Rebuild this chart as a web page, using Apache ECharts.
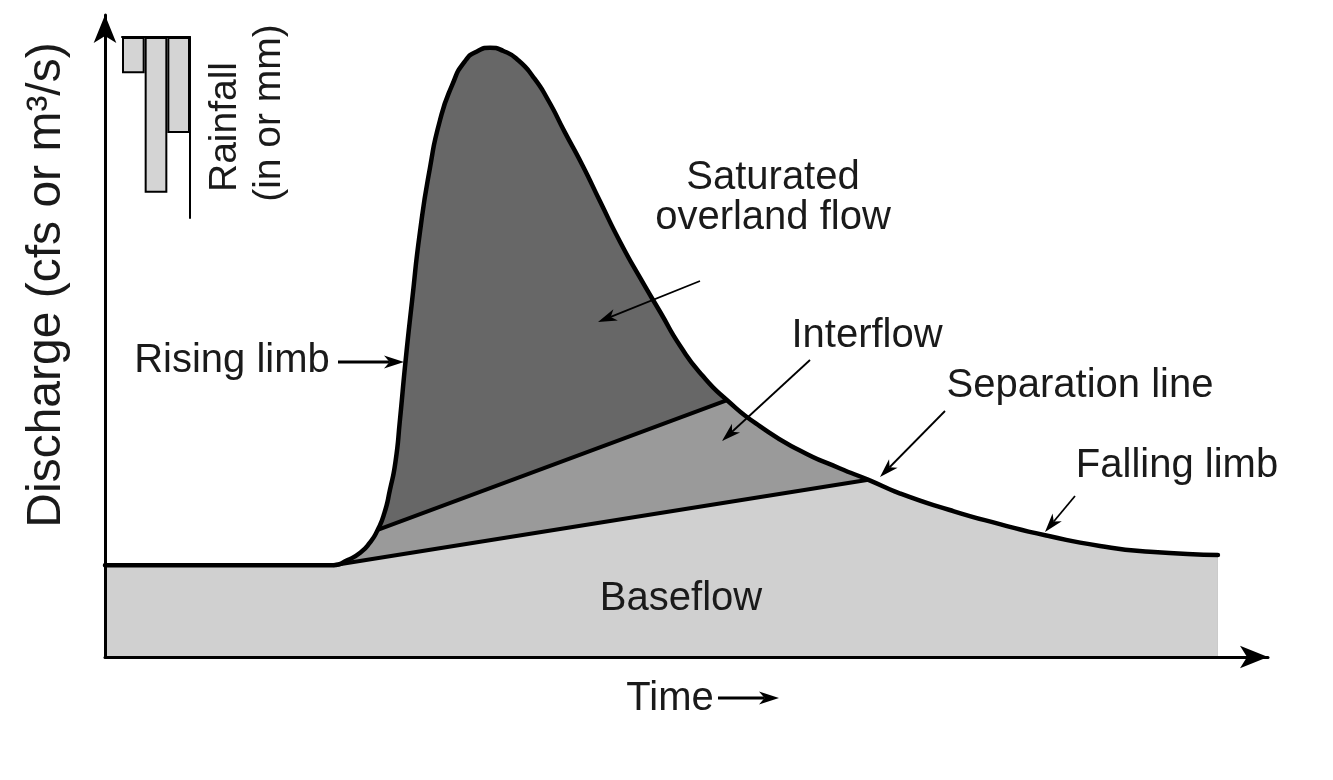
<!DOCTYPE html>
<html>
<head>
<meta charset="utf-8">
<script src="https://cdn.jsdelivr.net/npm/echarts@6/dist/echarts.min.js"></script>
<style>
  html, body { margin: 0; padding: 0; background: #ffffff; }
  #chart { width: 1333px; height: 780px; }
</style>
</head>
<body>
<div id="chart"></div>
<script>
// ---- Data (time and discharge in arbitrary units) ----
const curveTime = [0, 20.5, 21.8, 22.9, 23.8, 24.5, 25.1, 25.6, 26.1, 26.5, 27.0, 27.6, 28.3, 29.2, 30.1, 31.2, 32.3, 33.5, 34.6,
                   35.8, 37.1, 38.5, 39.8, 41.3, 42.9, 44.5, 46.3, 48.1, 49.9, 51.7, 53.7, 55.9, 58.8, 62.4, 66.0,
                   68.6, 71.4, 75.9, 80.4, 84.9, 89.4, 93.9, 100];
const curveFlow = [14.3, 14.3, 15.1, 16.2, 17.8, 19.8, 22.4, 26.0, 30.4, 36.9, 46.0, 55.6, 66.2, 76.2, 83.6, 89.1, 92.7, 94.4, 94.9,
                   94.4, 93.0, 90.3, 86.8, 81.8, 76.6, 70.9, 64.6, 59.0, 53.7, 48.4, 43.8, 40.0, 36.0, 32.2, 29.4,
                   27.6, 25.5, 22.9, 20.7, 18.8, 17.3, 16.4, 15.9];
const upperSepTime = [24.5, 55.9];
const upperSepFlow = [19.8, 40.0];
const lowerSepTime = [20.5, 68.6];
const lowerSepFlow = [14.3, 27.6];
const rainBlocks = ['t1', 't2', 't3'];
const rainDepth = [2.0, 8.6, 5.3];

const labels = {
  yTitle: 'Discharge (cfs or m³/s)',
  xTitle: 'Time',
  rain1: 'Rainfall',
  rain2: '(in or mm)',
  rising: 'Rising limb',
  sat1: 'Saturated',
  sat2: 'overland flow',
  inter: 'Interflow',
  sep: 'Separation line',
  falling: 'Falling limb',
  base: 'Baseflow'
};

// ---- Derived point lists ----
const curve = curveTime.map((t, i) => [t, curveFlow[i]]);
const upperSep = upperSepTime.map((t, i) => [t, upperSepFlow[i]]);
const lowerSep = lowerSepTime.map((t, i) => [t, lowerSepFlow[i]]);
const interTop = curve.filter(p => p[0] >= lowerSepTime[0] && p[0] <= upperSepTime[0])
  .concat(curve.filter(p => p[0] >= upperSepTime[1]));
const baseTop = [curve[0]].concat(lowerSep).concat(curve.filter(p => p[0] > lowerSepTime[1]));

const FONT = 'Liberation Sans, Arial, Helvetica, sans-serif';
const TXT = '#1a1a1a';

function txt(str, x, y, rot, size) {
  return { type: 'text', x: x, y: y, rotation: rot || 0, z: 100,
    style: { text: str, fontSize: size || 40, fontFamily: FONT, fill: TXT, align: 'center', verticalAlign: 'middle' } };
}
function arrow(x1, y1, x2, y2, lw, hl, hw) {
  const dx = x2 - x1, dy = y2 - y1, L = Math.hypot(dx, dy);
  const ux = dx / L, uy = dy / L, px = -uy, py = ux;
  const bx = x2 - ux * hl, by = y2 - uy * hl;
  const nx = x2 - ux * hl * 0.72, ny = y2 - uy * hl * 0.72;
  return [
    { type: 'line', z: 100, shape: { x1: x1, y1: y1, x2: nx, y2: ny }, style: { stroke: '#000', lineWidth: lw } },
    { type: 'polygon', z: 100, shape: { points: [[x2, y2], [bx + px * hw / 2, by + py * hw / 2], [nx, ny], [bx - px * hw / 2, by - py * hw / 2]] },
      style: { fill: '#000' } }
  ];
}

const chart = echarts.init(document.getElementById('chart'), null, { renderer: 'canvas' });

const hidden = { axisTick: { show: false }, axisLabel: { show: false }, splitLine: { show: false } };

const option = {
  animation: false,
  backgroundColor: '#ffffff',
  grid: [
    { left: 105, right: 65, top: 15, bottom: 123 },
    { left: 122, top: 37, width: 68, height: 181 }
  ],
  xAxis: [
    Object.assign({ gridIndex: 0, type: 'value', min: 0, max: 104.5, z: 8,
      axisLine: { show: true, onZero: false, symbol: ['none', 'arrow'], symbolSize: [17, 28],
        lineStyle: { color: '#000', width: 3 } } }, hidden),
    Object.assign({ gridIndex: 1, type: 'category', data: rainBlocks, position: 'top', z: 10,
      axisLine: { show: true, onZero: false, lineStyle: { color: '#000', width: 2 } } }, hidden)
  ],
  yAxis: [
    Object.assign({ gridIndex: 0, type: 'value', min: 0, max: 100, z: 8,
      axisLine: { show: true, onZero: false, symbol: ['none', 'arrow'], symbolSize: [17, 28],
        lineStyle: { color: '#000', width: 3 } } }, hidden),
    Object.assign({ gridIndex: 1, type: 'value', min: 0, max: 10, inverse: true, position: 'right', z: 10,
      axisLine: { show: true, onZero: false, lineStyle: { color: '#000', width: 2 } } }, hidden)
  ],
  series: [
    { name: 'overland', type: 'line', data: curve, smooth: 0.6, showSymbol: false, z: 1,
      lineStyle: { width: 0 }, areaStyle: { color: '#676767', opacity: 1 } },
    { name: 'interflow', type: 'line', data: interTop, smooth: false, showSymbol: false, z: 2,
      lineStyle: { width: 0 }, areaStyle: { color: '#9a9a9a', opacity: 1 } },
    { name: 'baseflow', type: 'line', data: baseTop, smooth: false, showSymbol: false, z: 3,
      lineStyle: { width: 0 }, areaStyle: { color: '#d0d0d0', opacity: 1 } },
    { name: 'mask', type: 'line', data: curve, smooth: 0.6, showSymbol: false, z: 4,
      lineStyle: { width: 0 }, areaStyle: { color: '#ffffff', opacity: 1, origin: 'end' } },
    { name: 'upperSep', type: 'line', data: upperSep, showSymbol: false, z: 5,
      lineStyle: { color: '#000', width: 4 } },
    { name: 'lowerSep', type: 'line', data: lowerSep, showSymbol: false, z: 5,
      lineStyle: { color: '#000', width: 4 } },
    { name: 'hydrograph', type: 'line', data: curve, smooth: 0.6, showSymbol: false, z: 6,
      lineStyle: { color: '#000', width: 4.5, cap: 'round', join: 'round' } },
    { name: 'rain', type: 'bar', xAxisIndex: 1, yAxisIndex: 1, data: rainDepth, barCategoryGap: '0%', z: 10,
      itemStyle: { color: '#d4d4d4', borderColor: '#000', borderWidth: 2 } }
  ],
  graphic: [
    txt(labels.yTitle, 47, 285, Math.PI / 2, 48),
    txt(labels.rain1, 225, 127, Math.PI / 2, 39),
    txt(labels.rain2, 269, 113, Math.PI / 2, 39),
    txt(labels.rising, 232, 361),
    txt(labels.sat1, 773, 178),
    txt(labels.sat2, 773, 218),
    txt(labels.inter, 867, 336),
    txt(labels.sep, 1080, 386),
    txt(labels.falling, 1177, 466),
    txt(labels.base, 681, 599),
    txt(labels.xTitle, 670, 699)
  ].concat(
    arrow(338, 362, 404, 362, 3, 20, 13),
    arrow(700, 281, 598, 322, 1.8, 19, 12),
    arrow(810, 360, 722, 441, 1.8, 19, 12),
    arrow(945, 411, 880, 477, 1.8, 19, 12),
    arrow(1075, 496, 1045, 532, 1.8, 19, 12),
    arrow(718, 698, 779, 698, 3, 20, 13)
  )
};
chart.setOption(option);
</script>
</body>
</html>
